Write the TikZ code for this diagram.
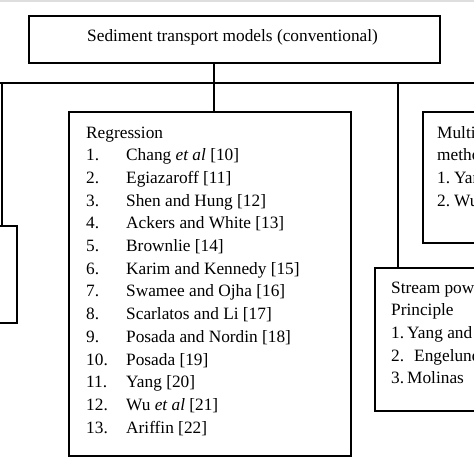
\documentclass[tikz,border=0pt]{standalone}
\usepackage{fontspec}
\setmainfont{Liberation Serif}

\tikzset{
    box/.style={draw, line width=2pt, inner sep=0pt},
    link/.style={line width=2pt},
    txt/.style={anchor=base west, inner sep=0pt, font=\fontsize{17.3}{21}\selectfont},
}

\begin{document}
\begin{tikzpicture}[x=1pt,y=-1pt]
    \useasboundingbox (0,0) rectangle (474,474);
    \fill[black!13] (0,0) rectangle (474,2);
    \clip (0,0) rectangle (474,474);

    % Drawing the title box
    \node[box, anchor=north west, minimum width=411pt, minimum height=47pt] (title) at (28,15) {};
    \node[txt] (titletxt) at (87,41.5) {Sediment transport models (conventional)};

    % Drawing the boxes below
    \node[box, anchor=north east, minimum width=60pt, minimum height=97pt] (left) at (18,225) {};
    \node[box, anchor=north west, minimum width=282pt, minimum height=344pt] (regr) at (68,111) {};
    \node[box, anchor=north west, minimum width=100pt, minimum height=131pt] (multi) at (422,111) {};
    \node[box, anchor=north west, minimum width=150pt, minimum height=143pt] (stream) at (374,267) {};

    % Connecting lines
    \coordinate (busL) at (-5,83);
    \coordinate (busR) at (480,83);
    \coordinate (tapM) at (214,83);
    \coordinate (tapL) at (2,83);
    \coordinate (tapR) at (398,83);
    \draw[link] (busL) -- (busR);
    \draw[link] (title.south -| tapM) -- (regr.north -| tapM);
    \draw[link] (tapL) -- (left.north -| tapL);
    \draw[link] (tapR) -- (stream.north -| tapR);

    % Regression list
    \node[txt] (regrhead) at (86,138) {Regression};
    \foreach \n/\name [count=\i] in {1./Chang \textit{et al} [10], 2./Egiazaroff [11],
        3./Shen and Hung [12], 4./Ackers and White [13], 5./Brownlie [14],
        6./Karim and Kennedy [15], 7./Swamee and Ojha [16], 8./Scarlatos and Li [17],
        9./Posada and Nordin [18], 10./Posada [19], 11./Yang [20],
        12./Wu \textit{et al} [21], 13./Ariffin [22]} {
        \node[txt] (regrn\i) at (86,{138+22.7*\i}) {\n};
        \node[txt] (regrt\i) at (126,{138+22.7*\i}) {\name};
    }

    % Multiple regression list
    \node[txt] (multihead) at (437,138) {Multiple};
    \node[txt] (multihead2) at (437,160.7) {methods};
    \node[txt] (multin1) at (437,183.4) {1.};
    \node[txt] (multit1) at (454,183.4) {Yang};
    \node[txt] (multin2) at (437,206.1) {2.};
    \node[txt] (multit2) at (454,206.1) {Wu};

    % Stream power list
    \node[txt] (streamhead) at (391,293) {Stream power};
    \node[txt] (streamhead2) at (391,315.7) {Principle};
    \node[txt] (streamn1) at (391,338.4) {1.};
    \node[txt] (streamt1) at (407,338.4) {Yang and};
    \node[txt] (streamn2) at (391,361.1) {2.};
    \node[txt] (streamt2) at (414,361.1) {Engelund};
    \node[txt] (streamn3) at (391,383.8) {3.};
    \node[txt] (streamt3) at (407,383.8) {Molinas};
\end{tikzpicture}
\end{document}
